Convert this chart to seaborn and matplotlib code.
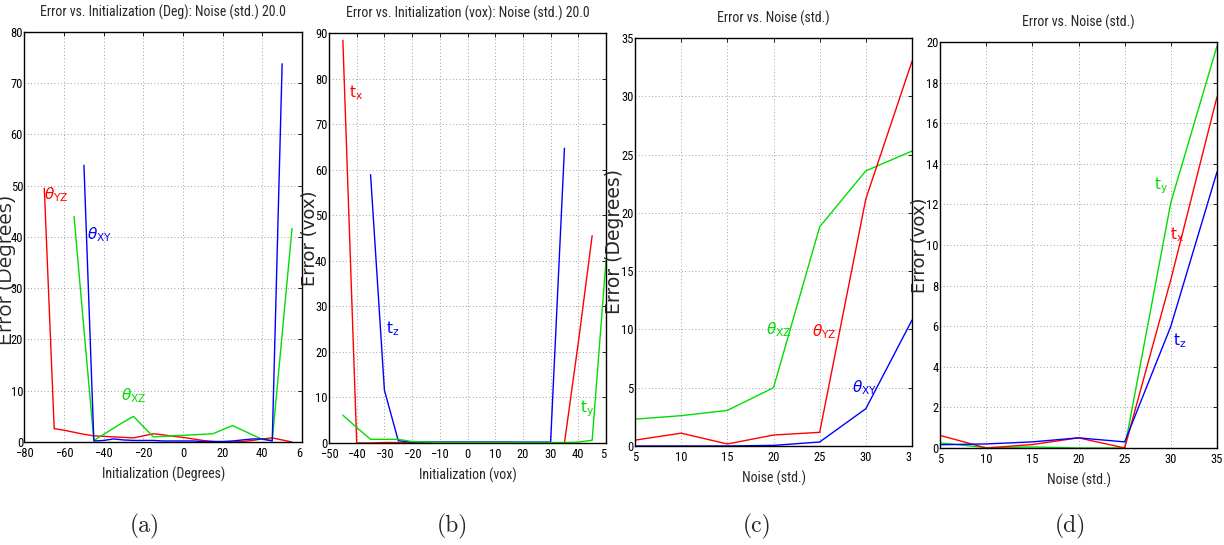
import matplotlib
matplotlib.use("Agg")
import matplotlib.pyplot as plt
import seaborn as sns
from matplotlib.transforms import Bbox, TransformedBbox

# ---------------- data ----------------
# (a) error vs. initialization in degrees
a_x_yz = list(range(-70, 60, 5))
a_theta_yz = [49.5, 2.6, 2.3, 1.9, 1.5, 1.2, 1.1, 1.0, 0.9, 0.8, 1.2, 1.6, 1.4,
              1.1, 0.9, 0.6, 0.3, 0.1, 0.0, 0.0, 0.1, 0.3, 0.6, 0.8, 0.4, 0.0]
a_x_xz = list(range(-55, 60, 5))
a_theta_xz = [44.0, 22.0, 0.3, 1.5, 2.7, 3.9, 5.0, 3.0, 1.0, 1.1, 1.2, 1.3,
              1.4, 1.5, 1.6, 2.4, 3.2, 2.3, 1.4, 0.5, 0.3, 21.0, 41.7]
a_x_xy = list(range(-50, 55, 5))
a_theta_xy = [54.0, 0.2, 0.3, 0.6, 0.4, 0.3, 0.3, 0.3, 0.2, 0.2, 0.2, 0.2,
              0.1, 0.1, 0.1, 0.2, 0.4, 0.6, 0.6, 0.2, 73.8]

# (b) error vs. initialization in voxels
b_x_tx = list(range(-45, 50, 5))
b_tx = [88.4, 0.0, 0.0, 0.1, 0.1, 0.1, 0.1, 0.1, 0.1, 0.1, 0.1, 0.1, 0.1,
        0.0, 0.0, 0.0, 0.0, 22.0, 45.5]
b_x_tz = list(range(-35, 40, 5))
b_tz = [58.9, 11.6, 0.5, 0.2, 0.2, 0.2, 0.2, 0.2, 0.2, 0.2, 0.2, 0.2, 0.2,
        0.2, 64.7]
b_x_ty = list(range(-45, 55, 5))
b_ty = [6.1, 3.4, 0.8, 0.8, 0.8, 0.3, 0.2, 0.1, 0.1, 0.1, 0.1, 0.1, 0.1,
        0.1, 0.1, 0.1, 0.1, 0.2, 0.6, 40.0]

# (c), (d) error vs. noise
noise = [5, 10, 15, 20, 25, 30, 35]
c_theta_xz = [2.3, 2.6, 3.05, 5.0, 18.8, 23.6, 25.3]
c_theta_yz = [0.5, 1.1, 0.17, 0.94, 1.17, 21.2, 33.0]
c_theta_xy = [0.0, 0.0, 0.0, 0.05, 0.34, 3.2, 10.8]
d_ty = [0.25, 0.02, 0.05, 0.0, 0.0, 12.1, 19.8]
d_tx = [0.62, 0.0, 0.17, 0.5, 0.0, 8.3, 17.3]
d_tz = [0.16, 0.2, 0.3, 0.5, 0.3, 6.0, 13.6]

RED, GREEN, BLUE = "#ff0000", "#00dd00", "#0000ff"

sns.set_theme(style="white")
plt.rcParams["font.family"] = ["Roboto Condensed", "Liberation Sans", "DejaVu Sans"]
plt.rcParams["mathtext.fontset"] = "dejavusans"

fig = plt.figure(figsize=(12.24, 5.45), dpi=100)

panels = [
    # rect, xlim, ylim, xticks, yticks, title, xlabel, ylabel, ylabel pos, ylabel font, clip right (px)
    ([0.0200, 0.1890, 0.2267, 0.7523], (-80, 60), (0, 80), range(-80, 61, 20), range(0, 81, 10),
     "Error vs. Initialization (Deg): Noise (std.) 20.0", "Initialization (Degrees)",
     "Error (Degrees)", (-0.031, 0.42), (["Encode Sans Expanded", "DejaVu Sans"], 14), 303),
    ([0.2688, 0.1872, 0.2263, 0.7523], (-50, 50), (0, 90), range(-50, 51, 10), range(0, 91, 10),
     "Error vs. Initialization (vox): Noise (std.) 20.0", "Initialization (vox)",
     "Error (vox)", (-0.036, 0.5), (["DejaVu Sans"], 13), 607),
    ([0.5188, 0.1817, 0.2263, 0.7486], (5, 35), (0, 35), range(5, 36, 5), range(0, 36, 5),
     "Error vs. Noise (std.)", "Noise (std.)", "Error (Degrees)", (-0.040, 0.5),
     (["DejaVu Sans"], 13.5), 911),
    ([0.7680, 0.1780, 0.2263, 0.7450], (5, 35), (0, 20), range(5, 36, 5), range(0, 21, 2),
     "Error vs. Noise (std.)", "Noise (std.)", "Error (vox)", (-0.040, 0.5),
     (["DejaVu Sans"], 13), None),
]

axes = []
for rect, xl, yl, xt, yt, title, xlab, ylab, ypos, yfont, clip_px in panels:
    ax = fig.add_axes(rect)
    ax.set_xlim(*xl)
    ax.set_ylim(*yl)
    ax.set_xticks(list(xt))
    ax.set_yticks(list(yt))
    ax.tick_params(direction="in", top=True, right=True, length=3, width=0.6,
                   labelsize=9, colors="black")
    ax.tick_params(axis="x", pad=3.5)
    ax.tick_params(axis="y", pad=1)
    ax.grid(True, linestyle=(0, (1, 3)), color="#808080", linewidth=0.6)
    for s in ax.spines.values():
        s.set_color("black")
        s.set_linewidth(1.0)
    h_px = rect[3] * 545
    ax.text(0.5, 1.0 + 20 / h_px, title, transform=ax.transAxes, ha="center",
            va="center", fontsize=10)
    ax.set_xlabel(xlab, fontsize=10)
    ax.xaxis.set_label_coords(0.5, -0.06)
    ax.set_ylabel(ylab, fontsize=yfont[1], family=yfont[0])
    ax.yaxis.set_label_coords(*ypos)
    if clip_px is not None:
        lab = ax.xaxis.get_major_ticks()[-1].label1
        lab.set_clip_box(TransformedBbox(Bbox([[0, 0], [clip_px / 1224, 1]]), fig.transFigure))
        lab.set_clip_on(True)
    axes.append(ax)

lw = 1.0
ax = axes[0]
sns.lineplot(x=a_x_yz, y=a_theta_yz, color=RED, lw=lw, ax=ax)
sns.lineplot(x=a_x_xz, y=a_theta_xz, color=GREEN, lw=lw, ax=ax)
sns.lineplot(x=a_x_xy, y=a_theta_xy, color=BLUE, lw=lw, ax=ax)
ax.text(-64.1, 48.2, r"$\theta_{\rm YZ}$", color=RED, ha="center", va="center", fontsize=11)
ax.text(-41.9, 40.4, r"$\theta_{\rm XY}$", color=BLUE, ha="center", va="center", fontsize=11)
ax.text(-24.8, 9.0, r"$\theta_{\rm XZ}$", color=GREEN, ha="center", va="center", fontsize=11)

ax = axes[1]
sns.lineplot(x=b_x_tx, y=b_tx, color=RED, lw=lw, ax=ax)
sns.lineplot(x=b_x_tz, y=b_tz, color=BLUE, lw=lw, ax=ax)
sns.lineplot(x=b_x_ty, y=b_ty, color=GREEN, lw=lw, ax=ax)
ax.text(-40.3, 76.8, r"$\rm t_x$", color=RED, ha="center", va="center", fontsize=11)
ax.text(-26.9, 25.2, r"$\rm t_z$", color=BLUE, ha="center", va="center", fontsize=11)
ax.text(43.1, 7.5, r"$\rm t_y$", color=GREEN, ha="center", va="center", fontsize=11)

ax = axes[2]
sns.lineplot(x=noise, y=c_theta_xz, color=GREEN, lw=lw, ax=ax)
sns.lineplot(x=noise, y=c_theta_yz, color=RED, lw=lw, ax=ax)
sns.lineplot(x=noise, y=c_theta_xy, color=BLUE, lw=lw, ax=ax)
ax.text(20.6, 9.95, r"$\theta_{\rm XZ}$", color=GREEN, ha="center", va="center", fontsize=11)
ax.text(25.5, 9.8, r"$\theta_{\rm YZ}$", color=RED, ha="center", va="center", fontsize=11)
ax.text(29.9, 5.0, r"$\theta_{\rm XY}$", color=BLUE, ha="center", va="center", fontsize=11)

ax = axes[3]
sns.lineplot(x=noise, y=d_ty, color=GREEN, lw=lw, ax=ax)
sns.lineplot(x=noise, y=d_tx, color=RED, lw=lw, ax=ax)
sns.lineplot(x=noise, y=d_tz, color=BLUE, lw=lw, ax=ax)
ax.text(28.9, 12.9, r"$\rm t_y$", color=GREEN, ha="center", va="center", fontsize=11)
ax.text(30.7, 10.5, r"$\rm t_x$", color=RED, ha="center", va="center", fontsize=11)
ax.text(31.0, 5.3, r"$\rm t_z$", color=BLUE, ha="center", va="center", fontsize=11)

for label, xc in zip(["(a)", "(b)", "(c)", "(d)"], [145, 452, 757, 1070]):
    fig.text(xc / 1224, 1 - 526 / 545, label, ha="center", va="center",
             fontsize=17, family=["cmr10", "DejaVu Serif"])

fig.savefig("out.png", dpi=100)
